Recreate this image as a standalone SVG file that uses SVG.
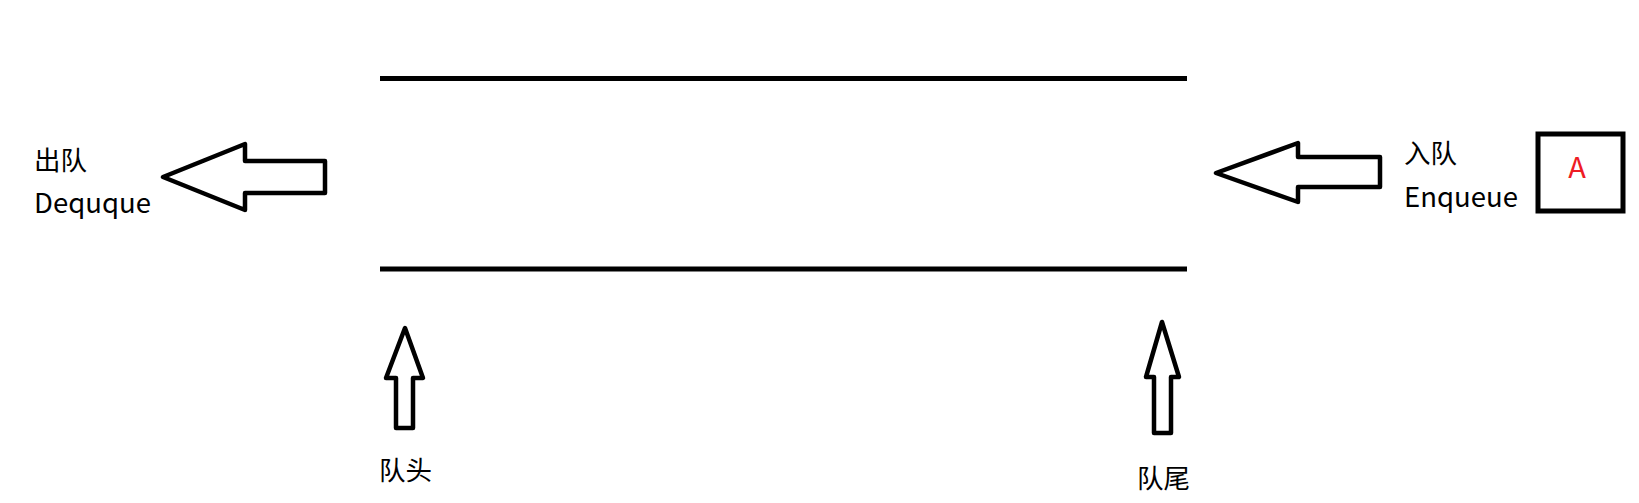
<svg xmlns="http://www.w3.org/2000/svg" width="1639" height="503" viewBox="0 0 1639 503">
<style>
.ln{stroke:#000;stroke-width:5;fill:none}
.ar{stroke:#000;stroke-width:4.5;fill:#fff;stroke-linejoin:round}
.t{font-family:"Noto Sans CJK SC","Noto Sans",sans-serif;font-size:26.5px;fill:#000}
.e{font-size:27.5px}
</style>
<rect width="1639" height="503" fill="#fff"/>
<g id="queue">
<line class="ln" x1="380" y1="78.5" x2="1187" y2="78.5"/>
<line class="ln" x1="380" y1="269" x2="1187" y2="269"/>
</g>
<g id="connectors">
<polygon id="dequeue-arrow" class="ar" points="163,177 245,144 245,161 325,161 325,193 245,193 245,210"/>
<polygon id="enqueue-arrow" class="ar" points="1216,173 1298,143 1298,157 1380,157 1380,187 1298,187 1298,202"/>
<polygon id="head-arrow" class="ar" points="405,328 423,378 413,378 413,428 396,428 396,378 386,378"/>
<polygon id="tail-arrow" class="ar" points="1162,322 1179,377 1171,377 1171,433 1154,433 1154,377 1146,377"/>
</g>
<g id="dequeue-label">
<text class="t" x="34" y="170">出队</text>
<text class="t e" x="34" y="213">Dequque</text>
</g>
<g id="enqueue-label">
<text class="t" x="1404" y="163">入队</text>
<text class="t e" x="1404" y="207">Enqueue</text>
</g>
<g id="node-A">
<rect x="1538" y="134" width="85" height="77" fill="#fff" stroke="#000" stroke-width="5"/>
<text x="1577" y="178" text-anchor="middle" style="font-family:'Noto Sans CJK SC','Noto Sans',sans-serif;font-size:29px;fill:#ee1c24">A</text>
</g>
<g id="head-label"><text class="t" x="379" y="480">队头</text></g>
<g id="tail-label"><text class="t" x="1137" y="488">队尾</text></g>
</svg>
